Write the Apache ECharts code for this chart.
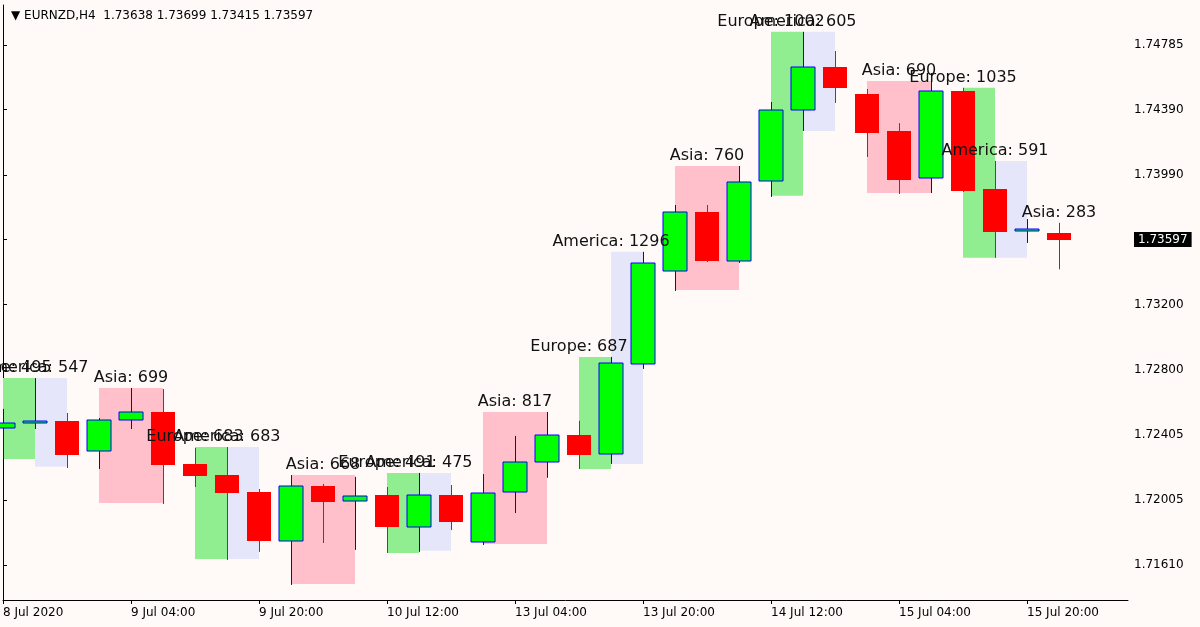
<!DOCTYPE html>
<html><head><meta charset="utf-8">
<script src="https://cdn.jsdelivr.net/npm/echarts@6/dist/echarts.min.js"></script>
<style>html,body{margin:0;padding:0;background:#fffaf8}#c{width:1200px;height:627px}</style>
</head><body><div id="c"></div>
<script>
// OHLC per H4 bar (index 0 = 8 Jul 2020 12:00)
var opens  = [1.72446,1.72477,1.72490,1.72306,1.72495,1.72544,1.72227,1.72159,1.72056,1.71756,1.72092,1.72001,1.72038,1.71842,1.72038,1.71750,1.72056,1.72238,1.72404,1.72288,1.72837,1.73405,1.73766,1.73466,1.73954,1.74388,1.74650,1.74486,1.74260,1.73973,1.74504,1.73906,1.73649,1.73638];
var highs  = [1.72563,1.72751,1.72538,1.72507,1.72691,1.72684,1.72324,1.72330,1.72074,1.72159,1.72105,1.72148,1.72086,1.72172,1.72098,1.72165,1.72398,1.72544,1.72490,1.72880,1.73522,1.73808,1.73808,1.74046,1.74437,1.74865,1.74748,1.74516,1.74308,1.74571,1.74523,1.74077,1.73722,1.73699];
var lows   = [1.72257,1.72440,1.72202,1.72196,1.72440,1.71982,1.72086,1.71640,1.71690,1.71488,1.71744,1.71702,1.71683,1.71690,1.71823,1.71732,1.71927,1.72142,1.72196,1.72227,1.72807,1.73283,1.73460,1.73454,1.73857,1.74260,1.74431,1.74101,1.73875,1.73881,1.73887,1.73485,1.73576,1.73415];
var closes = [1.72477,1.72490,1.72282,1.72495,1.72544,1.72221,1.72153,1.72050,1.71756,1.72092,1.71994,1.72031,1.71842,1.72038,1.71873,1.72050,1.72238,1.72404,1.72282,1.72843,1.73454,1.73766,1.73466,1.73949,1.74388,1.74650,1.74523,1.74248,1.73960,1.74504,1.73893,1.73643,1.73662,1.73597];

// sessions
var sessNames = ['Europe','America','Asia','Europe','America','Asia','Europe','America','Asia','Europe','America','Asia','Europe','America','Asia','Europe','America','Asia'];
var sessPips  = [495,547,699,683,683,668,491,475,817,687,1296,760,1002,605,690,1035,591,283];
var sessStart = [0,1,3,6,7,9,12,13,15,18,19,21,24,25,27,30,31,33];
var sessEnd   = [1,2,5,7,8,11,13,14,17,19,20,23,25,26,29,31,32,33];
var sessHigh  = [1.72751,1.72751,1.72691,1.72330,1.72330,1.72159,1.72172,1.72172,1.72544,1.72880,1.73522,1.74046,1.74865,1.74865,1.74565,1.74523,1.74077,1.73699];
var sessLow   = [1.72257,1.72209,1.71988,1.71646,1.71646,1.71494,1.71683,1.71696,1.71738,1.72196,1.72227,1.73289,1.73864,1.74260,1.73881,1.73485,1.73485,1.73415];

var timeTicks  = [0,4,8,12,16,20,24,28,32];
var timeLabels = ['8 Jul 2020','9 Jul 04:00','9 Jul 20:00','10 Jul 12:00','13 Jul 04:00','13 Jul 20:00','14 Jul 12:00','15 Jul 04:00','15 Jul 20:00'];
var priceTicks = [1.71610,1.72005,1.72405,1.72800,1.73200,1.73597,1.73990,1.74390,1.74785];
var currentPrice = 1.73597;
var header = 'EURNZD,H4  1.73638 1.73699 1.73415 1.73597';

var sessColor = {Asia:'#ffc0cb', Europe:'#90ee90', America:'#e6e6fa'};

var candleData = opens.map(function(o,i){return [i,o,highs[i],lows[i],closes[i]];});
var boxData = sessNames.map(function(n,i){return [sessStart[i],sessEnd[i],sessHigh[i],sessLow[i],i];});

var chart = echarts.init(document.getElementById('c'),null,{renderer:'canvas'});
chart.setOption({
  backgroundColor:'#fffaf8',
  animation:false,
  title:{text:'\u25BC '+header,left:6,top:5,textStyle:{fontFamily:'DejaVu Sans',fontSize:12,fontWeight:'normal',color:'#000'}},
  grid:{left:3,right:72,top:5,bottom:27},
  xAxis:{type:'value',min:0,max:35.156,
    axisLine:{show:true,onZero:false,lineStyle:{color:'#000'}},
    splitLine:{show:false},
    axisTick:{show:true,customValues:timeTicks,length:4,lineStyle:{color:'#000'}},
    axisLabel:{customValues:timeTicks,align:'left',margin:7,fontFamily:'DejaVu Sans',fontSize:12,color:'#000',
      formatter:function(v){var k=timeTicks.indexOf(Math.round(v));return k>=0?timeLabels[k]:'';}}
  },
  yAxis:{type:'value',position:'right',min:1.71396,max:1.75029,scale:true,
    axisLine:{show:true,lineStyle:{color:'#000'}},
    splitLine:{show:false},
    axisTick:{show:true,customValues:priceTicks,length:4,lineStyle:{color:'#000'}},
    axisLabel:{customValues:priceTicks,margin:6,fontFamily:'DejaVu Sans',fontSize:12,color:'#000',
      formatter:function(v){var s=v.toFixed(5);return Math.abs(v-currentPrice)<1e-6?'{cur|'+s+'}':s;},
      rich:{cur:{backgroundColor:'#000',color:'#fff',fontFamily:'DejaVu Sans',fontSize:12,padding:[2,4,1,4]}}}
  },
  series:[
    {type:'custom',name:'sessions',z:1,data:boxData,encode:{x:[0,1],y:[2,3]},
      renderItem:function(p,api){
        var a=api.coord([api.value(0),api.value(2)]),b=api.coord([api.value(1),api.value(3)]);
        var n=sessNames[api.value(4)];
        if(b[0]-a[0]<1) return null;
        return {type:'rect',shape:{x:a[0],y:a[1],width:b[0]-a[0],height:b[1]-a[1]},style:{fill:sessColor[n]}};
      }},
    {type:'custom',name:'candles',z:2,data:candleData,encode:{x:0,y:[1,2,3,4]},
      renderItem:function(p,api){
        var i=api.value(0),o=api.value(1),h=api.value(2),l=api.value(3),c=api.value(4);
        var bull=c>=o, w=api.size([1,0])[0]*0.75;
        var ph=api.coord([i,h]),pl=api.coord([i,l]),po=api.coord([i,o]),pc=api.coord([i,c]);
        var x=Math.round(ph[0])+0.5, top=Math.min(po[1],pc[1]), bh=Math.max(Math.abs(po[1]-pc[1]),2);
        var col=bull?'#0000ff':'#ff0000';
        return {type:'group',children:[
          {type:'line',shape:{x1:x,y1:ph[1],x2:x,y2:pl[1]},style:{stroke:col,lineWidth:1}},
          {type:'rect',shape:{x:Math.round(x-w/2),y:Math.round(top),width:Math.round(w),height:Math.round(bh)},
            style:bull?{fill:'#00ff00',stroke:'#0000ff',lineWidth:1}:{fill:'#ff0000'}}
        ]};
      }},
    {type:'custom',name:'labels',z:3,clip:false,data:boxData,encode:{x:[0,1],y:[2,3]},
      renderItem:function(p,api){
        var k=api.value(4), n=sessNames[k];
        var a=api.coord([api.value(0),api.value(2)]),b=api.coord([api.value(1),api.value(3)]);
        var cx = n==='Asia' ? (a[0]+b[0])/2 : a[0];
        return {type:'text',x:cx,y:a[1]-2,
          style:{text:n+': '+sessPips[k],textAlign:'center',textVerticalAlign:'bottom',
            font:'16px "DejaVu Sans", sans-serif',fill:'#111'}};
      }}
  ]
});
</script></body></html>
